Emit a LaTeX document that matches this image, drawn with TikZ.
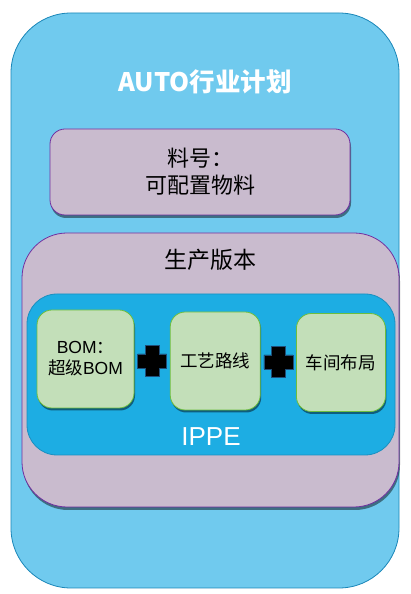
\documentclass[tikz,border=0pt]{standalone}
\usepackage{fontspec}
\setmainfont{Noto Sans CJK SC}
\newfontfamily\latinfont{Liberation Sans}
\usetikzlibrary{shapes, positioning, shadows, calc}
\definecolor{planblue}{HTML}{70CAEE}
\definecolor{planborder}{HTML}{1A86B8}
\definecolor{versionfill}{HTML}{C9BBCE}
\definecolor{versionborder}{HTML}{7030A0}
\definecolor{ippeblue}{HTML}{1DADE3}
\definecolor{ippeborder}{HTML}{1A8FC0}
\definecolor{partgreen}{HTML}{C3DFB9}
\definecolor{partborder}{HTML}{6CBE3E}
\definecolor{plusborder}{HTML}{1F4E79}

\begin{document}
\begin{tikzpicture}[x=1pt, y=1pt,
                    node distance=3pt,
                    plan_area/.style={rectangle, draw=planborder, fill=planblue, line width=0.8pt, rounded corners=60pt, minimum width=388pt, minimum height=575pt},
                    material_box/.style={rectangle, draw=versionborder, fill=versionfill, line width=0.8pt, rounded corners=15pt, minimum width=300pt, minimum height=86pt, align=center, font=\fontsize{22}{27}\selectfont, drop shadow={shadow xshift=1pt, shadow yshift=-3pt, opacity=0.45, fill=black}},
                    version_box/.style={rectangle, draw=versionborder, fill=versionfill, line width=0.8pt, rounded corners=45pt, minimum width=377pt, minimum height=274pt, drop shadow={shadow xshift=1pt, shadow yshift=-3pt, opacity=0.45, fill=black}},
                    ippe_box/.style={rectangle, draw=ippeborder, fill=ippeblue, line width=0.8pt, rounded corners=30pt, minimum width=368pt, minimum height=161pt},
                    part_box/.style={rectangle, draw=partborder, fill=partgreen, line width=0.8pt, rounded corners=15pt, minimum height=98pt, align=center, font=\fontsize{17.5}{21}\selectfont, drop shadow={shadow xshift=1pt, shadow yshift=-2.5pt, opacity=0.45, fill=black}},
                    plus_sign/.style={rectangle, inner sep=0pt, minimum width=29pt, minimum height=31pt},
                    plus_fill/.style={fill=black, draw=plusborder, line width=0.6pt},
                    ]

    \useasboundingbox (0,0) rectangle (410,594);

    % Outer planning area
    \node[plan_area] (plan) at (205,293.5) {};
    \node[text=white, font=\fontsize{25.5}{28}\selectfont\bfseries] (plan_title) at (205,512) {AUTO行业计划};

    % Material number
    \node[material_box] (material) at (200,422) {料号：\\可配置物料};

    % Production version
    \node[version_box] (version) at (210.5,224) {};
    \node[font=\fontsize{23}{26}\selectfont] (version_title) at (210.5,334) {生产版本};

    % IPPE
    \node[ippe_box] (ippe) at (211,219.5) {};
    \node[text=white, font=\latinfont\fontsize{26}{28}\selectfont] (ippe_title) at (211,157) {IPPE};

    % Parts of the IPPE
    \node[part_box, minimum width=97pt] (bom) at (85.5,235) {{\latinfont BOM}：\\超级{\latinfont BOM}};
    \node[plus_sign, right=of bom, yshift=-2pt] (plus1) {};
    \node[part_box, minimum width=90pt, right=of plus1] (routing) {工艺路线};
    \node[plus_sign, right=of routing, yshift=-1pt] (plus2) {};
    \node[part_box, minimum width=89pt, right=of plus2, yshift=-0.5pt] (layout) {车间布局};

    % Plus signs between the parts
    \foreach \p in {plus1, plus2} {
        \draw[plus_fill] ($(\p)+(-7,15.5)$) -- ($(\p)+(7,15.5)$) -- ($(\p)+(7,7)$) -- ($(\p)+(14.5,7)$) -- ($(\p)+(14.5,-7)$) -- ($(\p)+(7,-7)$) -- ($(\p)+(7,-15.5)$) -- ($(\p)+(-7,-15.5)$) -- ($(\p)+(-7,-7)$) -- ($(\p)+(-14.5,-7)$) -- ($(\p)+(-14.5,7)$) -- ($(\p)+(-7,7)$) -- cycle;
    }

\end{tikzpicture}
\end{document}
